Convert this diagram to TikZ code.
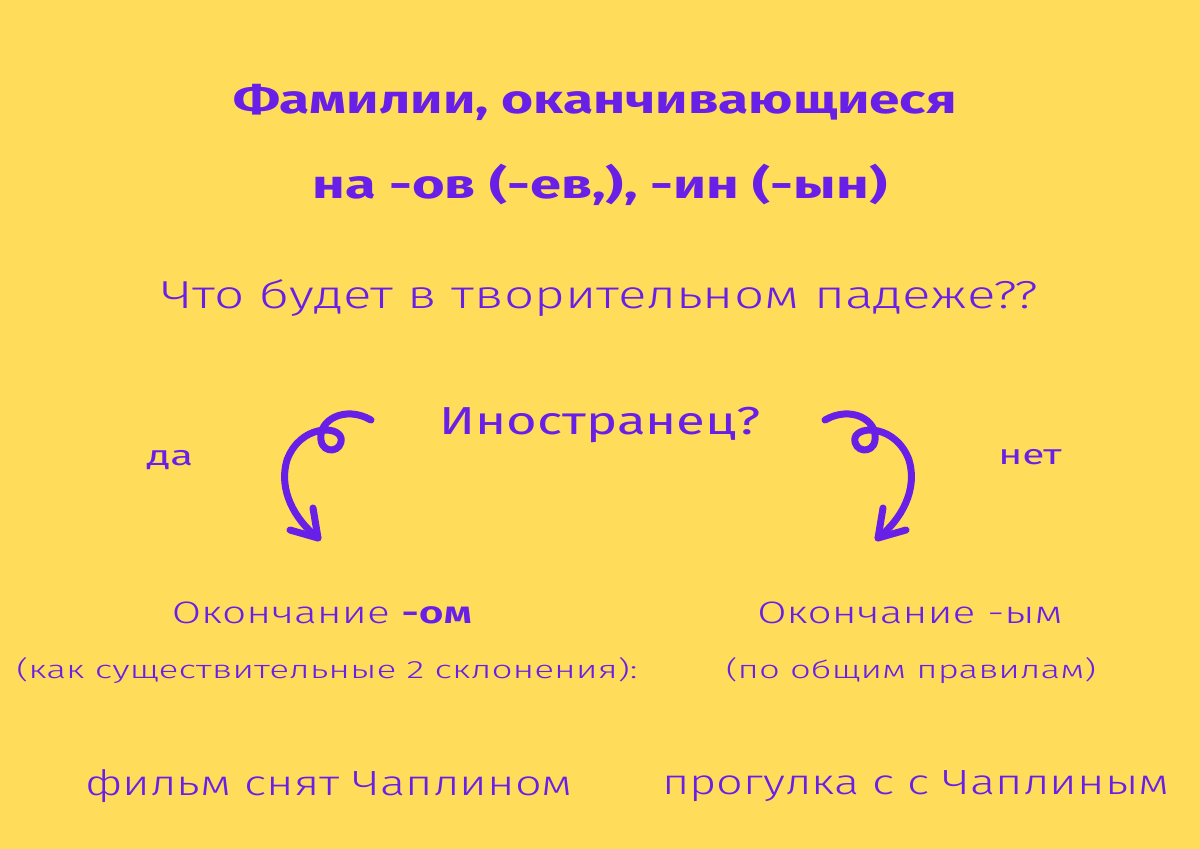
\documentclass[tikz,border=0pt]{standalone}
\usepackage{fontspec}
\setmainfont{Fira Sans}
\newfontfamily\lightf{Fira Sans Light}
\definecolor{bg}{RGB}{255,220,90}
\definecolor{pur}{RGB}{104,32,232}
\newcommand\myxw[2]{\scalebox{#1}[1]{#2}}
\begin{document}
\begin{tikzpicture}[x=1pt,y=-1pt,
  txt/.style={text=pur,inner sep=0pt,anchor=center},
  swirl/.style={draw=pur,line width=7pt,line cap=round,line join=round}]
\fill[bg] (0,0) rectangle (1200,849);
\useasboundingbox (0,0) rectangle (1200,849);
\node[txt,font=\fontsize{40}{48}\selectfont\bfseries] (t1) at (595,102) {\myxw{1.375}{Фамилии, оканчивающиеся}};
\node[txt,font=\fontsize{40}{48}\selectfont\bfseries] (t2) at (600,185) {\myxw{1.4}{на -ов (-ев,), -ин (-ын)}};
\node[txt,font=\fontsize{39}{46}\selectfont\lightf] (q) at (600,298) {\myxw{1.36}{Что будет в творительном падеже??}};
\node[txt,font=\fontsize{39}{46}\selectfont] (f) at (600,425) {\myxw{1.35}{Иностранец?}};
\node[txt,font=\fontsize{28}{34}\selectfont] (da) at (170,460) {\myxw{1.5}{да}};
\node[txt,font=\fontsize{28}{34}\selectfont] (net) at (1030,457) {\myxw{1.45}{нет}};
\node[txt,font=\fontsize{31}{38}\selectfont\lightf] (o1) at (322,613) {\myxw{1.37}{Окончание \textbf{-ом}}};
\node[txt,font=\fontsize{25}{30}\selectfont\lightf] (p1) at (327,671) {\myxw{1.48}{(как существительные 2 склонения):}};
\node[txt,font=\fontsize{31}{38}\selectfont\lightf] (o2) at (910,613) {\myxw{1.37}{Окончание -ым}};
\node[txt,font=\fontsize{25}{30}\selectfont\lightf] (p2) at (911,671) {\myxw{1.46}{(по общим правилам)}};
\node[txt,font=\fontsize{35}{42}\selectfont\lightf] (e1) at (329,786) {\myxw{1.34}{фильм снят Чаплином}};
\node[txt,font=\fontsize{35}{42}\selectfont\lightf] (e2) at (916,786) {\myxw{1.34}{прогулка с с Чаплиным}};
\newcommand\myswirl{%
\draw[swirl] (371,420) .. controls (345,405) and (318,420) .. (321,440)
  .. controls (323,455) and (343,452) .. (341,438)
  .. controls (338,425) and (300,425) .. (287,460)
  .. controls (278,490) and (295,520) .. (318,538);
\draw[swirl] (313,508) -- (318,538) -- (290,530);}
\myswirl
\begin{scope}[xshift=1196pt,xscale=-1]
\myswirl
\end{scope}
\end{tikzpicture}
\end{document}
